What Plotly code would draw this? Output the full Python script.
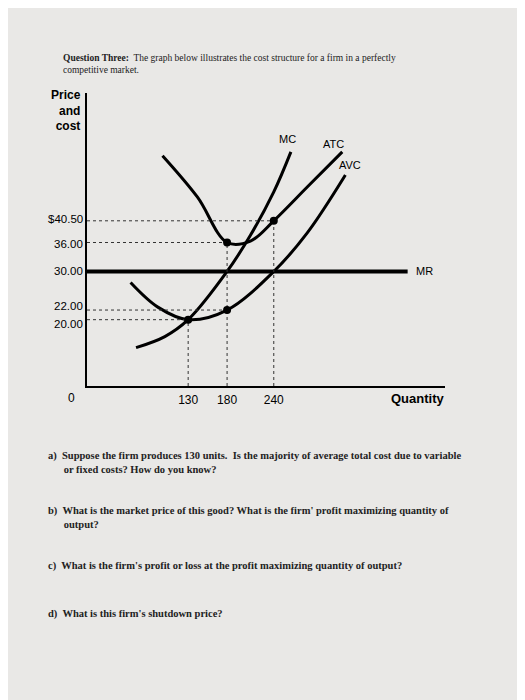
import plotly.graph_objects as go

atc_x = [97, 142, 180, 210, 240, 283, 328]
atc_y = [54, 45.4, 36, 36.3, 40.5, 47.5, 54.8]
avc_x = [56, 91, 130, 180, 240, 283, 332]
avc_y = [27.7, 22.6, 20, 22, 30, 38, 50]
mc_x = [63, 100, 130, 180, 210, 240, 262]
mc_y = [14.2, 16.5, 20, 30, 37.5, 46.5, 54.8]
mr_x = [0, 412]
mr_y = [30, 30]
dot_x = [180, 240, 130, 180]
dot_y = [36, 40.5, 20, 22]
ytick_vals = [40.5, 36, 30, 22, 20]
ytick_text = ["$40.50", "36.00", "30.00", "22.00", "20.00"]
ytick_shift = [2, -1, 0, 4, -4]
xtick_vals = [130, 180, 240]
xtick_text = ["130", "180", "240"]

L, R, T, B = 79, 437, 85, 378
def px(x): return (x - L) / (R - L)
def py(y): return (B - y) / (B - T)

fig = go.Figure()
line = dict(color="black", width=3, shape="spline", smoothing=1)
for xs, ys in [(atc_x, atc_y), (avc_x, avc_y), (mc_x, mc_y)]:
    fig.add_trace(go.Scatter(x=xs, y=ys, mode="lines", line=line, hoverinfo="skip"))
fig.add_trace(go.Scatter(x=mr_x, y=mr_y, mode="lines", line=dict(color="black", width=4)))
dot = dict(color="#333", width=1, dash="dot")
for xv, yv in zip(dot_x, dot_y):
    fig.add_trace(go.Scatter(x=[0, xv], y=[yv, yv], mode="lines", line=dot))
for xv, yv in [(130, 20), (180, 36), (240, 40.5)]:
    fig.add_trace(go.Scatter(x=[xv, xv], y=[6.25, yv], mode="lines", line=dot))
fig.add_trace(go.Scatter(x=dot_x, y=dot_y, mode="markers", marker=dict(color="black", size=8)))

ann = []
def A(x, y, t, size=12, font="Liberation Sans", xanchor="center", xref="x", yref="y", color="black", align="center", yanchor="middle", yshift=0):
    ann.append(dict(x=x, y=y, xref=xref, yref=yref, text=t, showarrow=False, xanchor=xanchor, yanchor=yanchor,
                    align=align, yshift=yshift, font=dict(family=font, size=size, color=color)))
for v, t, s in zip(ytick_vals, ytick_text, ytick_shift):
    A(-0.005, v, t, 11.5, xanchor="right", xref="paper", yshift=s)
A(258, 57.5, "MC", 11)
A(317, 56.5, "ATC", 11)
A(338, 52, "AVC", 11)
A(420, 30, "MR", 11, xanchor="left")
A(px(63), py(390), "0", 12, xref="paper", yref="paper")
A(px(409), py(390), "<b>Quantity</b>", 13, xref="paper", yref="paper")
A(px(75), py(78), "<b>Price<br>and<br>cost</b>", 12, xref="paper", yref="paper", xanchor="right", align="right", yanchor="top")
serif = "Liberation Serif"
A(px(53), py(43), "<b>Question Three:</b>  The graph below illustrates the cost structure for a firm in a perfectly<br>competitive market.",
  9.5, serif, "left", "paper", "paper", "#222", "left", "top")
qs = [(440, "a)  Suppose the firm produces 130 units.  Is the majority of average total cost due to variable<br>      or fixed costs? How do you know?"),
      (495, "b)  What is the market price of this good? What is the firm' profit maximizing quantity of<br>      output?"),
      (550, "c)  What is the firm's profit or loss at the profit maximizing quantity of output?"),
      (598, "d)  What is this firm's shutdown price?")]
for yy, t in qs:
    A(px(38), py(yy), "<b>" + t + "</b>", 10.5, serif, "left", "paper", "paper", "#222", "left", "top")

fig.update_layout(
    width=525, height=700, showlegend=False,
    margin=dict(l=L, r=525 - R, t=T, b=700 - B),
    paper_bgcolor="#e9e8e6", plot_bgcolor="#e9e8e6",
    annotations=ann,
    xaxis=dict(range=[0, 460], showgrid=False, zeroline=False, showline=True, linecolor="black", linewidth=1.5,
               tickvals=xtick_vals, ticktext=xtick_text, ticks="", ticklabelstandoff=2,
               tickfont=dict(family="Liberation Sans", size=12, color="black")),
    yaxis=dict(range=[6.25, 67], showgrid=False, zeroline=False, showline=True, linecolor="black", linewidth=1.5,
               showticklabels=False, ticks=""),
)
fig.write_html("out.html")
